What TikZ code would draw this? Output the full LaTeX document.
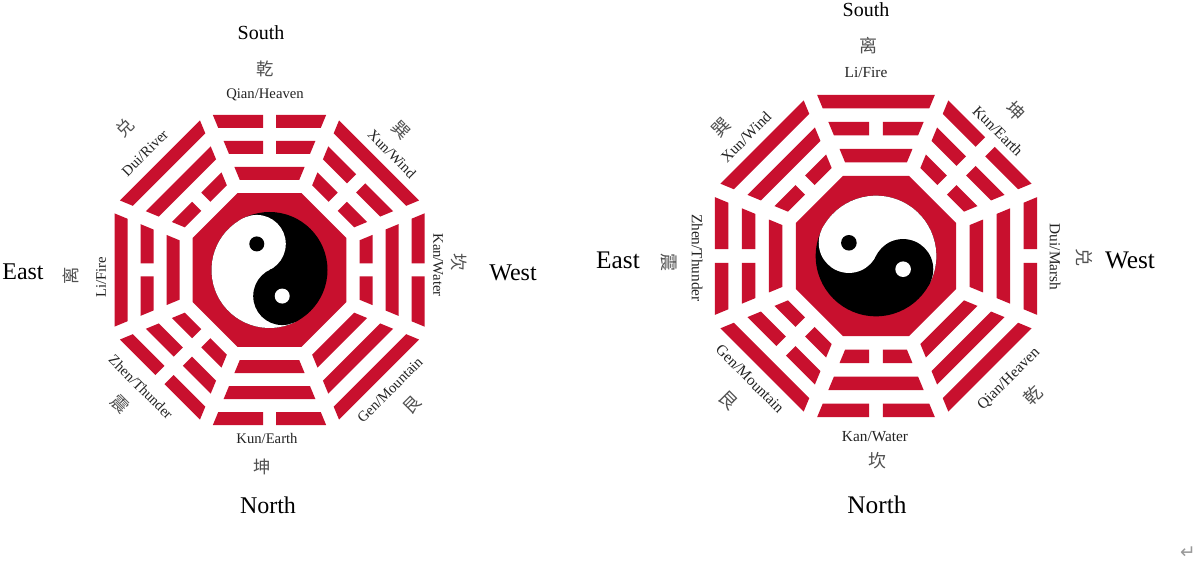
\documentclass[tikz,border=0pt]{standalone}
\usepackage{fontspec}
\setmainfont{Liberation Serif}
\newfontfamily\cjk{Noto Sans CJK SC}
\newfontfamily\symfnt{DejaVu Sans}
\definecolor{baguared}{RGB}{200,16,46}
\definecolor{labgray}{RGB}{35,35,35}
\definecolor{cjkgray}{RGB}{80,80,80}
\newcommand{\tgbar}[3]{%
  \pgfmathsetmacro{\wa}{#1*0.41421356-7*1.0823922}%
  \pgfmathsetmacro{\wb}{#2*0.41421356-7*1.0823922}%
  \ifnum#3=1
    \fill[baguared] (-\wa,#1) -- (\wa,#1) -- (\wb,#2) -- (-\wb,#2) -- cycle;
  \else
    \fill[baguared] (-\wa,#1) -- (-6.5,#1) -- (-6.5,#2) -- (-\wb,#2) -- cycle;
    \fill[baguared] (\wa,#1) -- (6.5,#1) -- (6.5,#2) -- (\wb,#2) -- cycle;
  \fi}
\newcommand{\trigram}[4]{%
  \begin{scope}[rotate={#1-90}]
    \tgbar{90}{103}{#2}\tgbar{116}{129}{#3}\tgbar{142}{155}{#4}
  \end{scope}}
\newcommand{\yinyang}[3]{%
  \fill[baguared] (22.5:83.34) -- (67.5:83.34) -- (112.5:83.34) -- (157.5:83.34)
    -- (202.5:83.34) -- (247.5:83.34) -- (292.5:83.34) -- (337.5:83.34) -- cycle;
  \fill[black] (0,0) circle (#1);
  \fill[white] ({#2}:#1) arc[start angle={#2}, end angle={#2+180}, radius=#1] -- cycle;
  \fill[white] ({#3}:{#1/2}) circle ({#1/2});
  \fill[black] ({#3+180}:{#1/2}) circle ({#1/2});
  \fill[black] ({#3}:{#1/2}) circle (7.5);
  \fill[white] ({#3+180}:{#1/2}) circle (7.5);}
\tikzset{
  dirword/.style={font=\fontsize{18}{18}\selectfont, text=black, inner sep=0pt},
  dirwordR/.style={font=\fontsize{19}{19}\selectfont, text=black, inner sep=0pt},
  southword/.style={font=\fontsize{15}{15}\selectfont, text=black, inner sep=0pt},
  trilab/.style={font=\fontsize{11}{11}\selectfont, text=labgray, inner sep=0pt},
  trilabR/.style={font=\fontsize{11.5}{11.5}\selectfont, text=labgray, inner sep=0pt},
  hanzi/.style={font=\cjk\fontsize{13}{13}\selectfont, text=cjkgray, inner sep=0pt},
  hanziR/.style={font=\cjk\fontsize{13.5}{13.5}\selectfont, text=cjkgray, inner sep=0pt}
}
\begin{document}
\begin{tikzpicture}[x=0.75pt,y=0.75pt]
\useasboundingbox (0,0) rectangle (1200,565);
\fill[white] (0,0) rectangle (1200,565);
% ---------- left bagua ----------
\begin{scope}[shift={(269.5,295)}]
  \trigram{90}{1}{0}{0}
  \trigram{45}{0}{0}{1}
  \trigram{0}{0}{1}{0}
  \trigram{-45}{1}{1}{1}
  \trigram{-90}{1}{1}{0}
  \trigram{-135}{0}{0}{0}
  \trigram{180}{1}{0}{1}
  \trigram{135}{0}{1}{1}
  \yinyang{58}{116}{116}
\end{scope}
\node[southword] (lsouth) at (261,532) {South};
\node[hanzi] (lqianc) at (265,496) {乾};
\node[trilab] (lqian) at (265,470) {Qian/Heaven};
\node[trilab, rotate=45] (ldui) at (145,412) {Dui/River};
\node[hanzi, rotate=45] (lduic) at (125,437) {兑};
\node[trilab, rotate=-45] (lxun) at (392,411) {Xun/Wind};
\node[hanzi, rotate=-45] (lxunc) at (401,435) {巽};
\node[trilab, rotate=-90] (lkan) at (438,300) {Kan/Water};
\node[hanzi, rotate=-90] (lkanc) at (459,303) {坎};
\node[dirword] (lwest) at (513,292) {West};
\node[dirword] (least) at (23,293) {East};
\node[hanzi, rotate=90] (llic) at (71,289) {离};
\node[trilab, rotate=90] (lli) at (101,288) {Li/Fire};
\node[trilab, rotate=-45] (lzhen) at (141,178) {Zhen/Thunder};
\node[hanzi, rotate=-45] (lzhenc) at (120,161) {震};
\node[trilab, rotate=45] (lgen) at (390,175) {Gen/Mountain};
\node[hanzi, rotate=45] (lgenc) at (412,160) {艮};
\node[trilab] (lkun) at (267,127) {Kun/Earth};
\node[hanzi] (lkunc) at (262,98) {坤};
\node[dirword] (lnorth) at (268,60) {North};
% ---------- right bagua ----------
\begin{scope}[shift={(876,309)}, scale=1.04]
  \trigram{90}{1}{0}{1}
  \trigram{45}{0}{0}{0}
  \trigram{0}{1}{1}{0}
  \trigram{-45}{1}{1}{1}
  \trigram{-90}{0}{1}{0}
  \trigram{-135}{0}{0}{1}
  \trigram{180}{1}{0}{0}
  \trigram{135}{0}{1}{1}
  \yinyang{58}{-26}{154}
\end{scope}
\node[southword] (rsouth) at (866,555) {South};
\node[hanziR] (rlic) at (868,519) {离};
\node[trilabR] (rli) at (866,492) {Li/Fire};
\node[trilabR, rotate=45] (rxun) at (746,428) {Xun/Wind};
\node[hanziR, rotate=45] (rxunc) at (721,437) {巽};
\node[trilabR, rotate=-45] (rkun) at (998,434) {Kun/Earth};
\node[hanziR, rotate=-45] (rkunc) at (1016,454) {坤};
\node[trilabR, rotate=-90] (rdui) at (1055,308) {Dui/Marsh};
\node[hanziR, rotate=-90] (rduic) at (1084,307) {兑};
\node[dirwordR] (rwest) at (1130,305) {West};
\node[trilabR, rotate=-90] (rzhen) at (697,307) {Zhen/Thunder};
\node[hanziR, rotate=-90] (rzhenc) at (669,302) {震};
\node[dirwordR] (reast) at (618,305) {East};
\node[trilabR, rotate=-45] (rgen) at (750,186) {Gen/Mountain};
\node[hanziR, rotate=-45] (rgenc) at (728,165) {艮};
\node[trilabR, rotate=45] (rqian) at (1009,186) {Qian/Heaven};
\node[hanziR, rotate=45] (rqianc) at (1033,170) {乾};
\node[trilabR] (rkan) at (875,128) {Kan/Water};
\node[hanziR] (rkanc) at (877,104) {坎};
\node[dirwordR] (rnorth) at (877,60) {North};
\node[font=\symfnt\fontsize{14}{14}\selectfont, text=gray!80, inner sep=0pt] (retmark) at (1188,12) {↵};
\end{tikzpicture}
\end{document}
